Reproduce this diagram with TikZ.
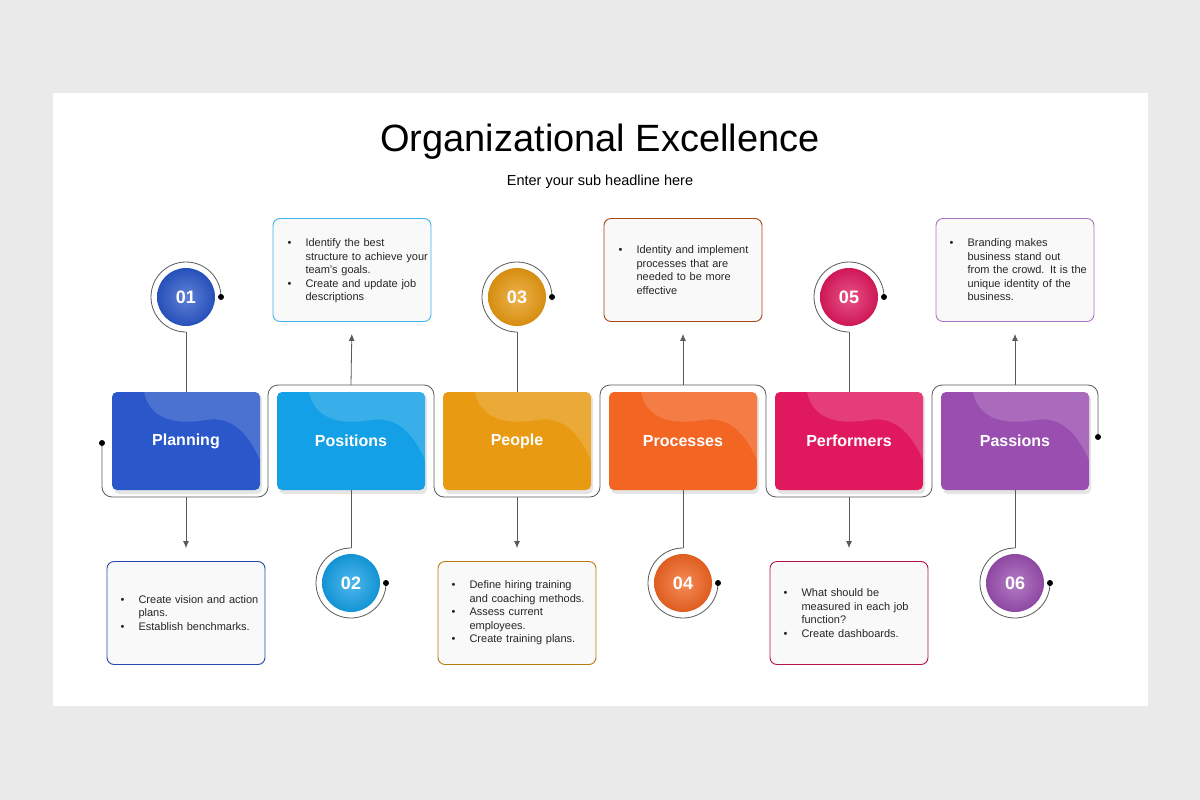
\documentclass[tikz,border=0pt]{standalone}
\usepackage{fontspec}
\setmainfont{Liberation Sans}
\usetikzlibrary{positioning, calc, arrows.meta}
\definecolor{pageGray}{RGB}{235,234,235}
\definecolor{cPlan}{RGB}{42,87,201}
\definecolor{cPos}{RGB}{20,160,230}
\definecolor{cPeo}{RGB}{232,154,18}
\definecolor{cPro}{RGB}{242,101,34}
\definecolor{cPer}{RGB}{224,25,94}
\definecolor{cPas}{RGB}{154,79,176}
\definecolor{lineGray}{RGB}{90,90,90}

\newcommand{\bitem}[1]{\hyphenpenalty=10000\noindent\hangindent=18pt\hangafter=1\makebox[18pt][l]{\textbullet}#1\par}

\tikzset{
	stepbox/.style={rounded corners=5pt, minimum width=148pt, minimum height=98pt, inner sep=0pt,
		text=white, font=\fontsize{16}{18}\selectfont\bfseries},
	notebox/.style={rounded corners=7pt, minimum width=158pt, minimum height=103pt, line width=0.9pt,
		fill=gray!5, inner sep=0pt},
	notetext/.style={text width=142pt, font=\fontsize{11}{13.5}\selectfont, text=black!85, align=left},
	ballnode/.style={circle, minimum size=58pt, inner sep=0pt, text=white,
		font=\fontsize{18}{20}\selectfont\bfseries},
	wire/.style={lineGray, line width=0.8pt},
	tip/.style={wire, -{Latex[length=7pt, width=6pt]}}
}

\begin{document}
\begin{tikzpicture}[x=1pt, y=-1pt]

% Background and panel.

	\fill[pageGray] (0,0) rectangle (1200,800);
	\fill[black!8] (55,97) rectangle (1150,710);
	\fill[white] (53,93) rectangle (1148,706);
	\useasboundingbox (0,0) rectangle (1200,800);

% Titles.

	\node (title) at (600,142) {\fontsize{38}{42}\selectfont Organizational Excellence};
	\node (sub) at (600,182) {\fontsize{14.5}{16}\selectfont Enter your sub headline here};

% Serpentine wire.

	\draw[wire, rounded corners=10pt] (102,443) -- (102,497) -- (268,497) -- (268,385) -- (434,385)
		-- (434,497) -- (600,497) -- (600,385) -- (766,385) -- (766,497) -- (932,497)
		-- (932,385) -- (1098,385) -- (1098,437);
	\fill[black] (102,443) circle (3pt);
	\fill[black] (1098,437) circle (3pt);

% Step boxes.

	\foreach \i/\x/\c/\name in {1/186/cPlan/Planning, 2/351/cPos/Positions, 3/517/cPeo/People,
		4/683/cPro/Processes, 5/849/cPer/Performers, 6/1015/cPas/Passions} {
		\fill[black!10, rounded corners=5pt] (\x-72,394) rectangle (\x+76,494);
		\node[stepbox, fill=\c] (box\i) at (\x,441) {};
		\begin{scope}
			\clip[rounded corners=5pt] (\x-74,392) rectangle (\x+74,490);
			\fill[white, opacity=0.16] (\x-42,392) .. controls (\x-36,420) and (\x-10,425) .. (\x+20,420)
				.. controls (\x+50,415) and (\x+65,440) .. (\x+74,460) -- (\x+74,392) -- cycle;
		\end{scope}
		\node[text=white, font=\fontsize{16}{18}\selectfont\bfseries] at (box\i) {\name};
	}

% Number balls.

	\foreach \i/\x/\y/\c in {1/186/297/cPlan, 2/351/583/cPos, 3/517/297/cPeo,
		4/683/583/cPro, 5/849/297/cPer, 6/1015/583/cPas} {
		\node[ballnode, inner color=\c!75!white, outer color=\c!92!black] (ball\i) at (\x,\y) {0\i};
	}
	\foreach \i in {1,3,5} {
		\draw[wire] ([yshift=-35pt]ball\i.center) arc[start angle=90, end angle=360, radius=35];
		\fill[black] ([xshift=35pt]ball\i.center) circle (3pt);
		\draw[wire] ([yshift=-35pt]ball\i.center) -- (box\i.north);
	}
	\foreach \i in {2,4,6} {
		\draw[wire] ([yshift=35pt]ball\i.center) arc[start angle=270, end angle=0, radius=35];
		\fill[black] ([xshift=35pt]ball\i.center) circle (3pt);
		\draw[wire] (box\i.south) -- ([yshift=35pt]ball\i.center);
	}

% Note boxes.

	\node[notebox, draw=cPos!80] (note2) at (352,270) {};
	\node[notebox, draw=cPro!70!black] (note4) at (683,270) {};
	\node[notebox, draw=cPas!80] (note6) at (1015,270) {};
	\node[notebox, draw=cPlan!85!black] (note1) at (186,613) {};
	\node[notebox, draw=cPeo!80!black] (note3) at (517,613) {};
	\node[notebox, draw=cPer!80!black] (note5) at (849,613) {};

	\node[notetext, anchor=north west] at (284,235) {\bitem{Identify the best structure to achieve your team's goals.}\bitem{Create and update job descriptions}};
	\node[notetext, anchor=north west] at (615,242) {\bitem{Identity and implement processes that are needed to be more effective}};
	\node[notetext, anchor=north west] at (946,235) {\bitem{Branding makes business stand out from the crowd. It is the unique identity of the business.}};
	\node[notetext, anchor=west] at (117,613) {\bitem{Create vision and action plans.}\bitem{Establish benchmarks.}};
	\node[notetext, anchor=west] at (448,613) {\bitem{Define hiring training and coaching methods.}\bitem{Assess current employees.}\bitem{Create training plans.}};
	\node[notetext, anchor=west] at (780,613) {\bitem{What should be measured in each job function?}\bitem{Create dashboards.}};

% Arrows from the wire to the notes.

	\foreach \i in {2,4,6}
		\draw[tip, shorten >=12pt] (box\i.north |- 0,385) -- (note\i.south);
	\foreach \i in {1,3,5}
		\draw[tip, shorten >=13pt] (box\i.south |- 0,497) -- (note\i.north);

\end{tikzpicture}
\end{document}
